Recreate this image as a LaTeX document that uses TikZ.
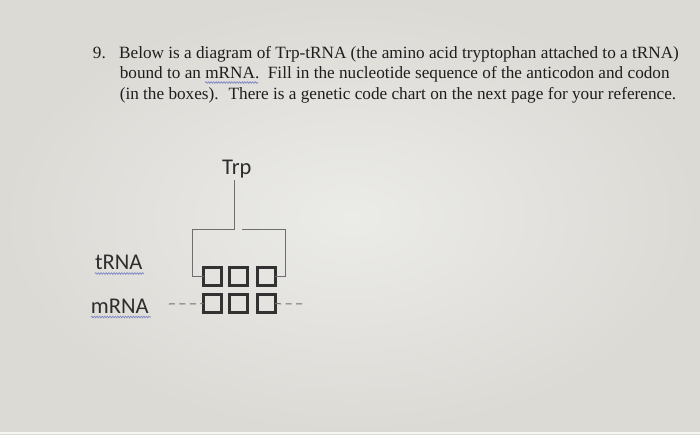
\documentclass[tikz,border=0pt]{standalone}
\usepackage{fontspec}
\setmainfont{Liberation Serif}
\newfontfamily\labelfont{Carlito}
\usetikzlibrary{decorations.pathmorphing}
\definecolor{bgin}{RGB}{235,235,232}
\definecolor{bgout}{RGB}{220,218,213}
\definecolor{ink}{RGB}{30,30,30}
\definecolor{labelink}{RGB}{45,45,45}
\definecolor{linegray}{RGB}{110,110,110}
\definecolor{boxink}{RGB}{50,50,50}
\definecolor{squig}{RGB}{125,135,195}
\begin{document}
\begin{tikzpicture}[x=1pt,y=-1pt,
  para/.style={anchor=base west, inner sep=0pt, font=\fontsize{17.2}{20}\selectfont, text=ink},
  lab/.style={anchor=base west, inner sep=0pt, font=\labelfont\fontsize{22.5}{26}\selectfont, text=labelink},
  cell/.style={draw=boxink, line width=2.6pt, minimum size=18pt, inner sep=0pt, outer sep=0pt},
  stem/.style={draw=linegray, line width=1.1pt},
  strand/.style={draw=linegray, line width=1pt, dash pattern=on 6pt off 4.5pt},
  spell/.style={draw=squig, line width=0.7pt, decorate, decoration={snake, amplitude=0.8pt, segment length=2.6pt}}]

% background (photo of a page)
\shade[inner color=bgin, outer color=bgout] (0,0) rectangle (700,434);
\fill[white!55!bgin] (0,432) rectangle (700,434);
\useasboundingbox (0,0) rectangle (700,434);

% question text
\node[para] (num) at (92.7,58) {9.};
\node[para] (l1) at (119,58) {Below is a diagram of Trp-tRNA (the amino acid tryptophan attached to a tRNA)};
\node[para] (l2) at (119.6,78.5) {bound to an mRNA. \ Fill in the nucleotide sequence of the anticodon and codon};
\node[para] (l3) at (119.6,99) {(in the boxes). \ There is a genetic code chart on the next page for your reference.};
\coordinate (sq0a) at (205,82.5);
\coordinate (sq0b) at (258,82.5);
\draw[spell] (sq0a) -- (sq0b);

% labels
\node[lab] (trp) at (222,174) {Trp};
\node[lab] (trna) at (95,269) {tRNA};
\node[lab] (mrna) at (90.7,313) {mRNA};
\coordinate (sq1a) at (95,273.5);
\coordinate (sq1b) at (144,273.5);
\coordinate (sq2a) at (91,317);
\coordinate (sq2b) at (151,317);
\draw[spell] (sq1a) -- (sq1b);
\draw[spell] (sq2a) -- (sq2b);

% anticodon boxes (tRNA)
\node[cell] (t1) at (212.5,276.3) {};
\node[cell] (t2) at (238.7,276.3) {};
\node[cell] (t3) at (266.2,276.3) {};
% codon boxes (mRNA)
\node[cell] (m1) at (212.5,303.7) {};
\node[cell] (m2) at (238.7,303.7) {};
\node[cell] (m3) at (266.2,303.7) {};

% tRNA outline
\coordinate (stemtop) at (234.3,180);
\coordinate (lcorner) at (234.3,229.3);
\coordinate (rstart) at (242.3,229.3);
\draw[stem] (stemtop) -- (lcorner) -- (192.3,229.3) -- (192.3,276.3) -- (t1.west);
\draw[stem] (rstart) -- (285.7,229.3) -- (285.7,276.3) -- (t3.east);

% mRNA strand
\coordinate (mleft) at (168.8,304);
\coordinate (mright) at (306,304);
\draw[strand] (mleft) -- (m1.west);
\draw[strand] (m3.east) -- (mright);
\end{tikzpicture}
\end{document}
